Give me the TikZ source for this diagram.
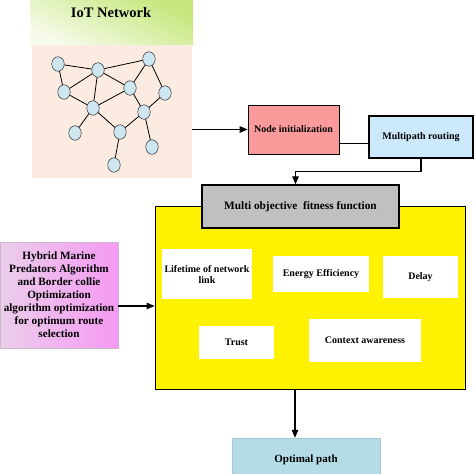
\documentclass[tikz,border=0pt]{standalone}
\usepackage{fontspec}
\setmainfont{Liberation Serif}
\usetikzlibrary{arrows.meta,positioning,shapes.geometric,calc}
\definecolor{peach}{HTML}{FCEBE0}
\definecolor{sensorblue}{HTML}{CDE6F0}
\definecolor{initred}{HTML}{FA9A9A}
\definecolor{routeblue}{HTML}{CCE8FB}
\definecolor{fitgray}{HTML}{C0C0C0}
\definecolor{optblue}{HTML}{B3DCE6}
\definecolor{algoleft}{HTML}{EBCDEB}
\definecolor{algoright}{HTML}{F59AF2}
\definecolor{iotgreen}{HTML}{C6E77C}

\begin{document}
\begin{tikzpicture}[x=1pt,y=-1pt,
    box/.style={draw=black, thick, inner sep=0pt, font=\bfseries\fontsize{10}{12}\selectfont},
    crit/.style={fill=white, inner sep=0pt, font=\bfseries\fontsize{10}{11}\selectfont},
    sensor/.style={ellipse, draw=black, fill=sensorblue, minimum width=12.5pt, minimum height=14.5pt, inner sep=0pt},
    link/.style={black, line width=0.8pt},
    flow/.style={-{Triangle[length=8pt,width=6.5pt]}, line width=1.1pt}]
    \clip (0,0) rectangle (474,474);

    % IoT network panel
    \shade[top color=iotgreen, bottom color=iotgreen!15!white, shading angle=-25] (30,0) rectangle (193,45);
    \node[font=\bfseries\fontsize{14.5}{16}\selectfont] (iottitle) at (111,13) {IoT Network};
    \node[fill=peach, minimum width=160pt, minimum height=133pt, inner sep=0pt] (panel) at (112,111.5) {};

    \foreach \n/\x/\y in {1/58/64, 2/98/70, 3/149/59, 4/64/92, 5/130/88, 6/165/93,
                          7/93/108, 8/144/112, 9/75/133, 10/120/132, 11/152/147, 12/114/165}
        \node[sensor] (s\n) at (\x,\y) {};
    \foreach \a/\b in {1/2, 1/4, 2/3, 2/4, 2/5, 2/7, 3/5, 3/6, 4/7, 7/5, 5/8, 6/8,
                       7/9, 7/10, 10/8, 8/11, 10/12}
        \draw[link] (s\a) -- (s\b);

    % routing steps
    \node[box, fill=initred, minimum width=91pt, minimum height=49pt] (init) at (293.5,129.5) {Node initialization};
    \node[box, line width=1.4pt, fill=routeblue, minimum width=104pt, minimum height=42pt] (multi) at (421,137) {Multipath routing};

    % fitness function
    \node[box, fill=yellow, minimum width=310pt, minimum height=183pt] (fitbox) at (310,297.5) {};
    \node[box, line width=1.4pt, fill=fitgray, minimum width=197pt, minimum height=43pt,
          font=\bfseries\fontsize{11.3}{13}\selectfont] (fit) at (300.5,206.5) {Multi objective\ \ fitness function};

    \node[crit, minimum width=90pt, minimum height=50pt, align=center] (life) at (207,274) {Lifetime of network\\link};
    \node[crit, minimum width=96pt, minimum height=36pt] (energy) at (321,274) {Energy Efficiency};
    \node[crit, minimum width=75pt, minimum height=42pt] (delay) at (420.5,277) {Delay};
    \node[crit, minimum width=75pt, minimum height=33pt] (trust) at (236.5,342.5) {Trust};
    \node[crit, minimum width=112pt, minimum height=43pt] (context) at (365,340.5) {Context awareness};

    % optimisation algorithm
    \node[draw=algoleft!70!gray, left color=algoleft, right color=algoright, minimum width=118pt, minimum height=106pt,
          inner sep=0pt, align=center, font=\bfseries\fontsize{11.2}{13}\selectfont] (algo) at (59,295)
        {Hybrid Marine\\Predators Algorithm\\and Border collie\\Optimization\\algorithm optimization\\for optimum route\\selection};

    \node[fill=optblue, draw=optblue!80!gray, minimum width=148pt, minimum height=44pt, inner sep=0pt,
          font=\bfseries\fontsize{11}{13}\selectfont] (opt) at (306,460) {Optimal path};

    % connectors
    \draw[flow] (panel.east |- init.west) -- (init.west);
    \draw[thick] ([yshift=-13.5pt]init.east) -- ([yshift=-13.5pt]init.east -| multi.west);
    \draw[flow] (multi.south) -- ++(0,13) -| ([xshift=-5pt]fit.north);
    \draw[flow] ([yshift=-11pt]algo.east) -- ([yshift=-11pt]algo.east -| fitbox.west);
    \draw[flow] ([xshift=-11pt]opt.north |- fitbox.south) -- ([xshift=-11pt]opt.north);
\end{tikzpicture}
\end{document}
